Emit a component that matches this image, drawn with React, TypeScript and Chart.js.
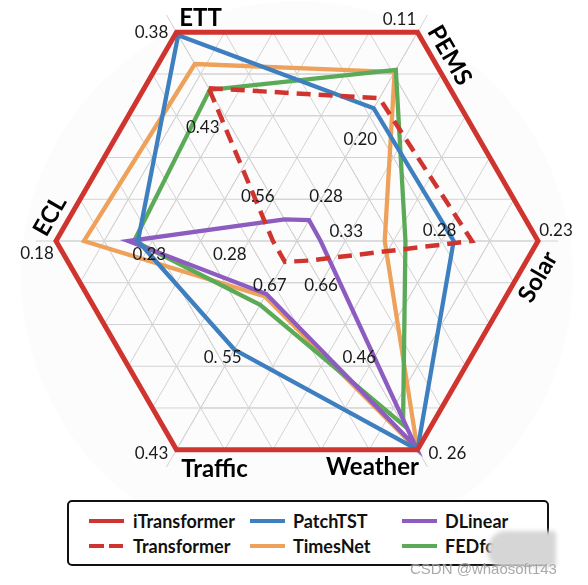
import { useEffect, useRef } from "react";
import { Chart, registerables } from "chart.js";

Chart.register(...registerables);

// axis order, clockwise from the top-left vertex
const AXES = ["ETT", "PEMS", "Solar", "Weather", "Traffic", "ECL"];

// radial position on the 0..5 lattice (outer ring = best)
const ITRANSFORMER = [5, 5, 5, 5, 5, 5];
const PATCHTST = [4.93, 3.18, 3.25, 5, 2.6, 3.3];
const DLINEAR = [0.52, 0.5, 0.49, 4.93, 1.27, 3.5];
const TRANSFORMER = [3.66, 3.42, 3.63, 0.47, 0.5, 0.5];
const TIMESNET = [4.24, 4.05, 1.82, 5, 1.33, 4.42];
const FEDFORMER = [3.62, 4.1, 2.25, 4.4, 1.53, 3.38];

// tick labels on each axis, at lattice levels 5, 3 and 1
const TICK_LEVELS = [5, 3, 1];
const TICKS_ETT = ["0.38", "0.43", "0.56"];
const TICKS_PEMS = ["0.11", "0.20", "0.28"];
const TICKS_SOLAR = ["0.23", "0.28", "0.33"];
const TICKS_WEATHER = ["0. 26", "0.46", "0.66"];
const TICKS_TRAFFIC = ["0.43", "0. 55", "0.67"];
const TICKS_ECL = ["0.18", "0.23", "0.28"];
const TICKS = [TICKS_ETT, TICKS_PEMS, TICKS_SOLAR, TICKS_WEATHER, TICKS_TRAFFIC, TICKS_ECL];

const RED = "#D0342F";
const BLUE = "#3E7FBF";
const PURPLE = "#8D5CC0";
const ORANGE = "#EEA15A";
const GREEN = "#5BAA57";
const GRID = "#d2d2d2";

// pixel nudges for the labels, relative to their lattice point
const TICK_OFFSETS = [
  [[-25, 0], [-22, 12], [-15, -3]],
  [[-18, -13], [-9, 24], [5, -3]],
  [[18, -10], [-2, -10], [1, -9]],
  [[30, 4], [-10, -9], [0, 3]],
  [[-25, 4], [-2, -9], [-3, 3]],
  [[-19, 13], [-3, 14], [-19, 14]],
];
const TITLE_OFFSETS = [
  [24, -14, 0],
  [32, 23, 60],
  [0, 36, -60],
  [-45, 18, 0],
  [38, 20, 0],
  [-6, -25, -60],
];

const latticePlugin = {
  id: "lattice",
  beforeDraw(chart: any) {
    const r = chart.scales.r;
    const ctx = chart.ctx;
    const cx = r.xCenter;
    const cy = r.yCenter;
    const R = r.drawingArea;
    ctx.save();
    ctx.fillStyle = "rgba(0,0,0,0.012)";
    ctx.beginPath();
    ctx.arc(cx, cy + 36, R + 35, 0, Math.PI * 2);
    ctx.fill();

    ctx.strokeStyle = GRID;
    ctx.lineWidth = 1;
    const s = R / 5;
    for (const deg of [0, 60, 120]) {
      const a = (deg * Math.PI) / 180;
      const ux = Math.cos(a);
      const uy = Math.sin(a);
      for (let k = -4; k <= 4; k++) {
        const d = (k * s * Math.sqrt(3)) / 2;
        const h = R - Math.abs(d) / Math.sqrt(3);
        ctx.beginPath();
        ctx.moveTo(cx - d * uy - h * ux, cy + d * ux - h * uy);
        ctx.lineTo(cx - d * uy + h * ux, cy + d * ux + h * uy);
        ctx.stroke();
      }
    }
    for (let i = 0; i < AXES.length; i++) {
      const p0 = r.getPointPosition(i, R);
      const p1 = r.getPointPosition(i, R + 20);
      ctx.beginPath();
      ctx.moveTo(p0.x, p0.y);
      ctx.lineTo(p1.x, p1.y);
      ctx.stroke();
    }
    ctx.restore();
  },
  afterDraw(chart: any) {
    const r = chart.scales.r;
    const ctx = chart.ctx;
    ctx.save();
    ctx.textAlign = "center";
    ctx.textBaseline = "middle";
    ctx.fillStyle = "#1a1a1a";
    ctx.font = "17px Lato";
    TICKS.forEach((labels, i) => {
      labels.forEach((txt, j) => {
        const p = r.getPointPosition(i, r.getDistanceFromCenterForValue(TICK_LEVELS[j]));
        const [dx, dy] = TICK_OFFSETS[i][j];
        ctx.fillText(txt, p.x + dx, p.y + dy);
      });
    });
    ctx.fillStyle = "#000";
    ctx.font = "bold 24px Lato";
    AXES.forEach((name, i) => {
      const p = r.getPointPosition(i, r.drawingArea);
      const [dx, dy, rot] = TITLE_OFFSETS[i];
      ctx.save();
      ctx.translate(p.x + dx, p.y + dy);
      ctx.rotate((rot * Math.PI) / 180);
      ctx.fillText(name, 0, 0);
      ctx.restore();
    });
    ctx.restore();
  },
};

const LEGEND_ITEMS = [
  { label: "iTransformer", color: RED, dashed: false },
  { label: "PatchTST", color: BLUE, dashed: false },
  { label: "DLinear", color: PURPLE, dashed: false },
  { label: "Transformer", color: RED, dashed: true },
  { label: "TimesNet", color: ORANGE, dashed: false },
  { label: "FEDformer", color: GREEN, dashed: false },
];
const LEGEND_LINE_X = [20, 181, 333];
const LEGEND_TEXT_X = [64, 224, 376];
const LEGEND_ROW_Y = [19, 44];

function Legend() {
  return (
    <div
      style={{
        position: "absolute",
        left: 67,
        top: 500,
        width: 478,
        height: 62,
        border: "2.5px solid #111",
        borderRadius: 5,
        background: "#fff",
      }}
    >
      {LEGEND_ITEMS.map((it, i) => {
        const col = i % 3;
        const row = Math.floor(i / 3);
        const y = LEGEND_ROW_Y[row];
        return (
          <div key={it.label}>
            {it.dashed ? (
              <>
                <div style={{ position: "absolute", left: LEGEND_LINE_X[col], top: y - 2, width: 15, height: 4, background: it.color }} />
                <div style={{ position: "absolute", left: LEGEND_LINE_X[col] + 20, top: y - 2, width: 14, height: 4, background: it.color }} />
              </>
            ) : (
              <div style={{ position: "absolute", left: LEGEND_LINE_X[col], top: y - 2, width: 35, height: 4, background: it.color }} />
            )}
            <div
              style={{
                position: "absolute",
                left: LEGEND_TEXT_X[col],
                top: y - 12,
                height: 24,
                lineHeight: "24px",
                fontFamily: "Lato, sans-serif",
                fontWeight: 700,
                fontSize: 18,
                color: "#111",
                whiteSpace: "nowrap",
              }}
            >
              {it.label}
            </div>
          </div>
        );
      })}
    </div>
  );
}

export default function App() {
  const canvasRef = useRef<HTMLCanvasElement>(null);

  useEffect(() => {
    if (!canvasRef.current) return;
    const line = (label: string, data: number[], color: string, width: number, dash: number[] = []) => ({
      label,
      data,
      borderColor: color,
      backgroundColor: color,
      borderWidth: width,
      borderDash: dash,
      borderJoinStyle: "miter" as const,
      fill: false,
      pointRadius: 0,
      pointHoverRadius: 0,
      clip: false as const,
    });
    const chart = new Chart(canvasRef.current, {
      type: "radar",
      data: {
        labels: AXES,
        datasets: [
          line("iTransformer", ITRANSFORMER, RED, 5),
          line("Transformer", TRANSFORMER, RED, 4.5, [14, 8]),
          line("PatchTST", PATCHTST, BLUE, 4.3),
          line("DLinear", DLINEAR, PURPLE, 4.3),
          line("FEDformer", FEDFORMER, GREEN, 4.3),
          line("TimesNet", TIMESNET, ORANGE, 4.3),
        ],
      },
      options: {
        animation: false,
        responsive: true,
        maintainAspectRatio: false,
        layout: { padding: { left: 56, right: 49, top: 0, bottom: 102 } },
        plugins: { legend: { display: false }, tooltip: { enabled: false } },
        scales: {
          r: {
            min: 0,
            max: 5,
            startAngle: -30,
            ticks: { display: false, stepSize: 1 },
            pointLabels: { display: false },
            grid: { circular: false, color: GRID, lineWidth: 1 },
            angleLines: { display: true, color: GRID, lineWidth: 1 },
          },
        },
      },
      plugins: [latticePlugin],
    });
    return () => chart.destroy();
  }, []);

  return (
    <div style={{ position: "fixed", left: 0, top: 0, width: 588, height: 585, background: "#fff", overflow: "hidden" }}>
      <div style={{ position: "absolute", left: 0, top: 0, width: 588, height: 585 }}>
        <canvas ref={canvasRef} role="img" aria-label="Radar chart comparing forecasting models across six datasets" />
      </div>
      <Legend />
      <div
        style={{
          position: "absolute",
          left: 488,
          top: 531,
          width: 68,
          height: 36,
          borderRadius: "18px 4px 4px 14px",
          background: "#d6d6d6",
          filter: "blur(2px)",
        }}
      />
      <div
        style={{
          position: "absolute",
          left: 410,
          top: 560,
          fontFamily: "'Liberation Sans', Arial, sans-serif",
          fontSize: 15,
          color: "rgba(140,140,140,0.75)",
          whiteSpace: "nowrap",
          textShadow: "0 0 2px #fff",
        }}
      >
        CSDN @whaosoft143
      </div>
    </div>
  );
}
